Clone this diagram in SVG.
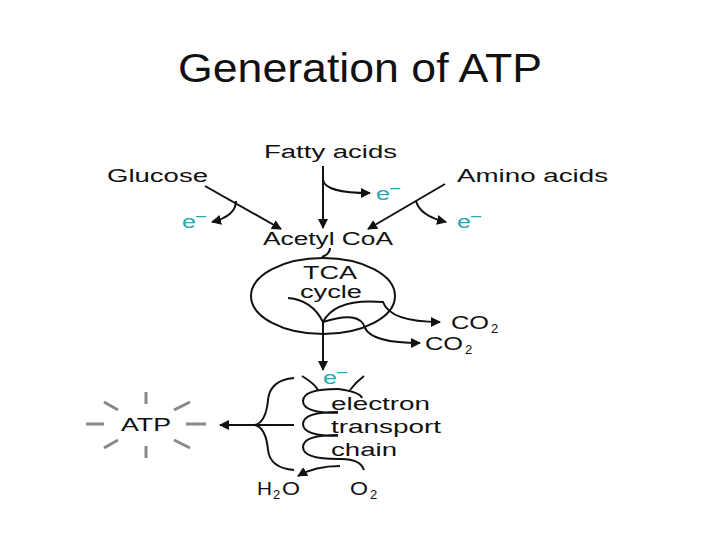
<svg xmlns="http://www.w3.org/2000/svg" width="720" height="540" viewBox="0 0 720 540">
<style>
text{font-family:"Liberation Sans",Arial,sans-serif;fill:#111}
.l{font-size:18px}
.e{font-size:18px;fill:#2aa7b3}
.s{fill:none;stroke:#111;stroke-width:2}
.r{stroke:#888;stroke-width:3}
</style>
<defs><marker id="a" viewBox="0 0 10 10" refX="9" refY="5" markerWidth="5" markerHeight="5" orient="auto"><path d="M0 0L10 5L0 10z" fill="#111"/></marker></defs>
<rect width="720" height="540" fill="#fff"/>
<text x="178" y="82" font-size="40" textLength="364" lengthAdjust="spacingAndGlyphs">Generation of ATP</text>
<g id="fatty"><text class="l" x="264" y="158" textLength="133" lengthAdjust="spacingAndGlyphs">Fatty acids</text></g>
<g id="glucose"><text class="l" x="107" y="182" textLength="101" lengthAdjust="spacingAndGlyphs">Glucose</text></g>
<g id="amino"><text class="l" x="457" y="182" textLength="151" lengthAdjust="spacingAndGlyphs">Amino acids</text></g>
<g id="acetyl"><text class="l" x="263" y="245" textLength="130" lengthAdjust="spacingAndGlyphs">Acetyl CoA</text></g>
<g id="tca"><ellipse class="s" cx="323" cy="296" rx="72" ry="38"/><text class="l" x="303" y="279" textLength="54" lengthAdjust="spacingAndGlyphs">TCA</text><text class="l" x="300" y="298" textLength="62" lengthAdjust="spacingAndGlyphs">cycle</text></g>
<g id="co2a"><text class="l" x="451" y="329" textLength="38" lengthAdjust="spacingAndGlyphs">CO</text><text x="491" y="333" font-size="13">2</text></g>
<g id="co2b"><text class="l" x="425" y="350" textLength="38" lengthAdjust="spacingAndGlyphs">CO</text><text x="465" y="354" font-size="13">2</text></g>
<g id="e1"><text class="e" x="376" y="200" textLength="14" lengthAdjust="spacingAndGlyphs">e</text><text class="e" x="390" y="193" font-size="14">–</text></g>
<g id="e2"><text class="e" x="182" y="228" textLength="14" lengthAdjust="spacingAndGlyphs">e</text><text class="e" x="196" y="221" font-size="14">–</text></g>
<g id="e3"><text class="e" x="457" y="228" textLength="14" lengthAdjust="spacingAndGlyphs">e</text><text class="e" x="471" y="221" font-size="14">–</text></g>
<g id="e4"><text class="e" x="323" y="384" textLength="14" lengthAdjust="spacingAndGlyphs">e</text><text class="e" x="337" y="377" font-size="14">–</text></g>
<g id="etc">
<path class="s" d="M302 376Q315 384 318 390M350 390Q356 382 364 376"/>
<path class="s" d="M338 389Q303 389 303 401Q303 413 338 413M338 412Q303 412 303 424Q303 436 338 436M338 435Q303 435 303 447Q303 459 338 459"/>
<path class="s" d="M338 389Q360 392 362 398M338 459Q360 458 364 470"/>
<text class="l" x="331" y="410" textLength="99" lengthAdjust="spacingAndGlyphs">electron</text><text class="l" x="331" y="433" textLength="110" lengthAdjust="spacingAndGlyphs">transport</text><text class="l" x="331" y="456" textLength="66" lengthAdjust="spacingAndGlyphs">chain</text>
</g>
<g id="h2o"><text class="l" x="257" y="495" textLength="15" lengthAdjust="spacingAndGlyphs">H</text><text x="273" y="499" font-size="13">2</text><text class="l" x="282" y="495" textLength="18" lengthAdjust="spacingAndGlyphs">O</text></g>
<g id="o2"><text class="l" x="350" y="495" textLength="18" lengthAdjust="spacingAndGlyphs">O</text><text x="370" y="499" font-size="13">2</text></g>
<g id="atp"><text class="l" x="121" y="431" textLength="50" lengthAdjust="spacingAndGlyphs">ATP</text>
<g class="r"><line x1="86" y1="424" x2="104" y2="424"/><line x1="186" y1="424" x2="206" y2="424"/><line x1="146" y1="392" x2="146" y2="404"/><line x1="146" y1="446" x2="146" y2="458"/><line x1="104" y1="402" x2="118" y2="410"/><line x1="174" y1="410" x2="190" y2="402"/><line x1="104" y1="448" x2="118" y2="440"/><line x1="174" y1="440" x2="190" y2="448"/></g></g>
<g id="connectors" class="s" marker-end="url(#a)">
<path d="M323 166V228"/>
<path d="M205 186L281 229"/>
<path d="M445 184L368 229"/>
<path d="M323 180Q325 193 370 193"/>
<path d="M236 201Q236 216 212 222"/>
<path d="M416 201Q420 216 446 222"/>
<path d="M323 322V370"/>
<path d="M323 322Q312 300 288 298M323 322Q335 298 383 302Q390 322 440 322" />
<path d="M323 322Q360 310 365 328Q372 343 420 343"/>
<path d="M292 425H220"/>
<path d="M340 466Q315 466 298 476"/>
</g>
<path class="s" d="M294 378Q270 380 268 400Q266 422 255 425Q266 428 268 450Q270 468 294 470M255 425H294"/>
<path class="s" d="M330 248Q330 254 322 257"/>
</svg>
